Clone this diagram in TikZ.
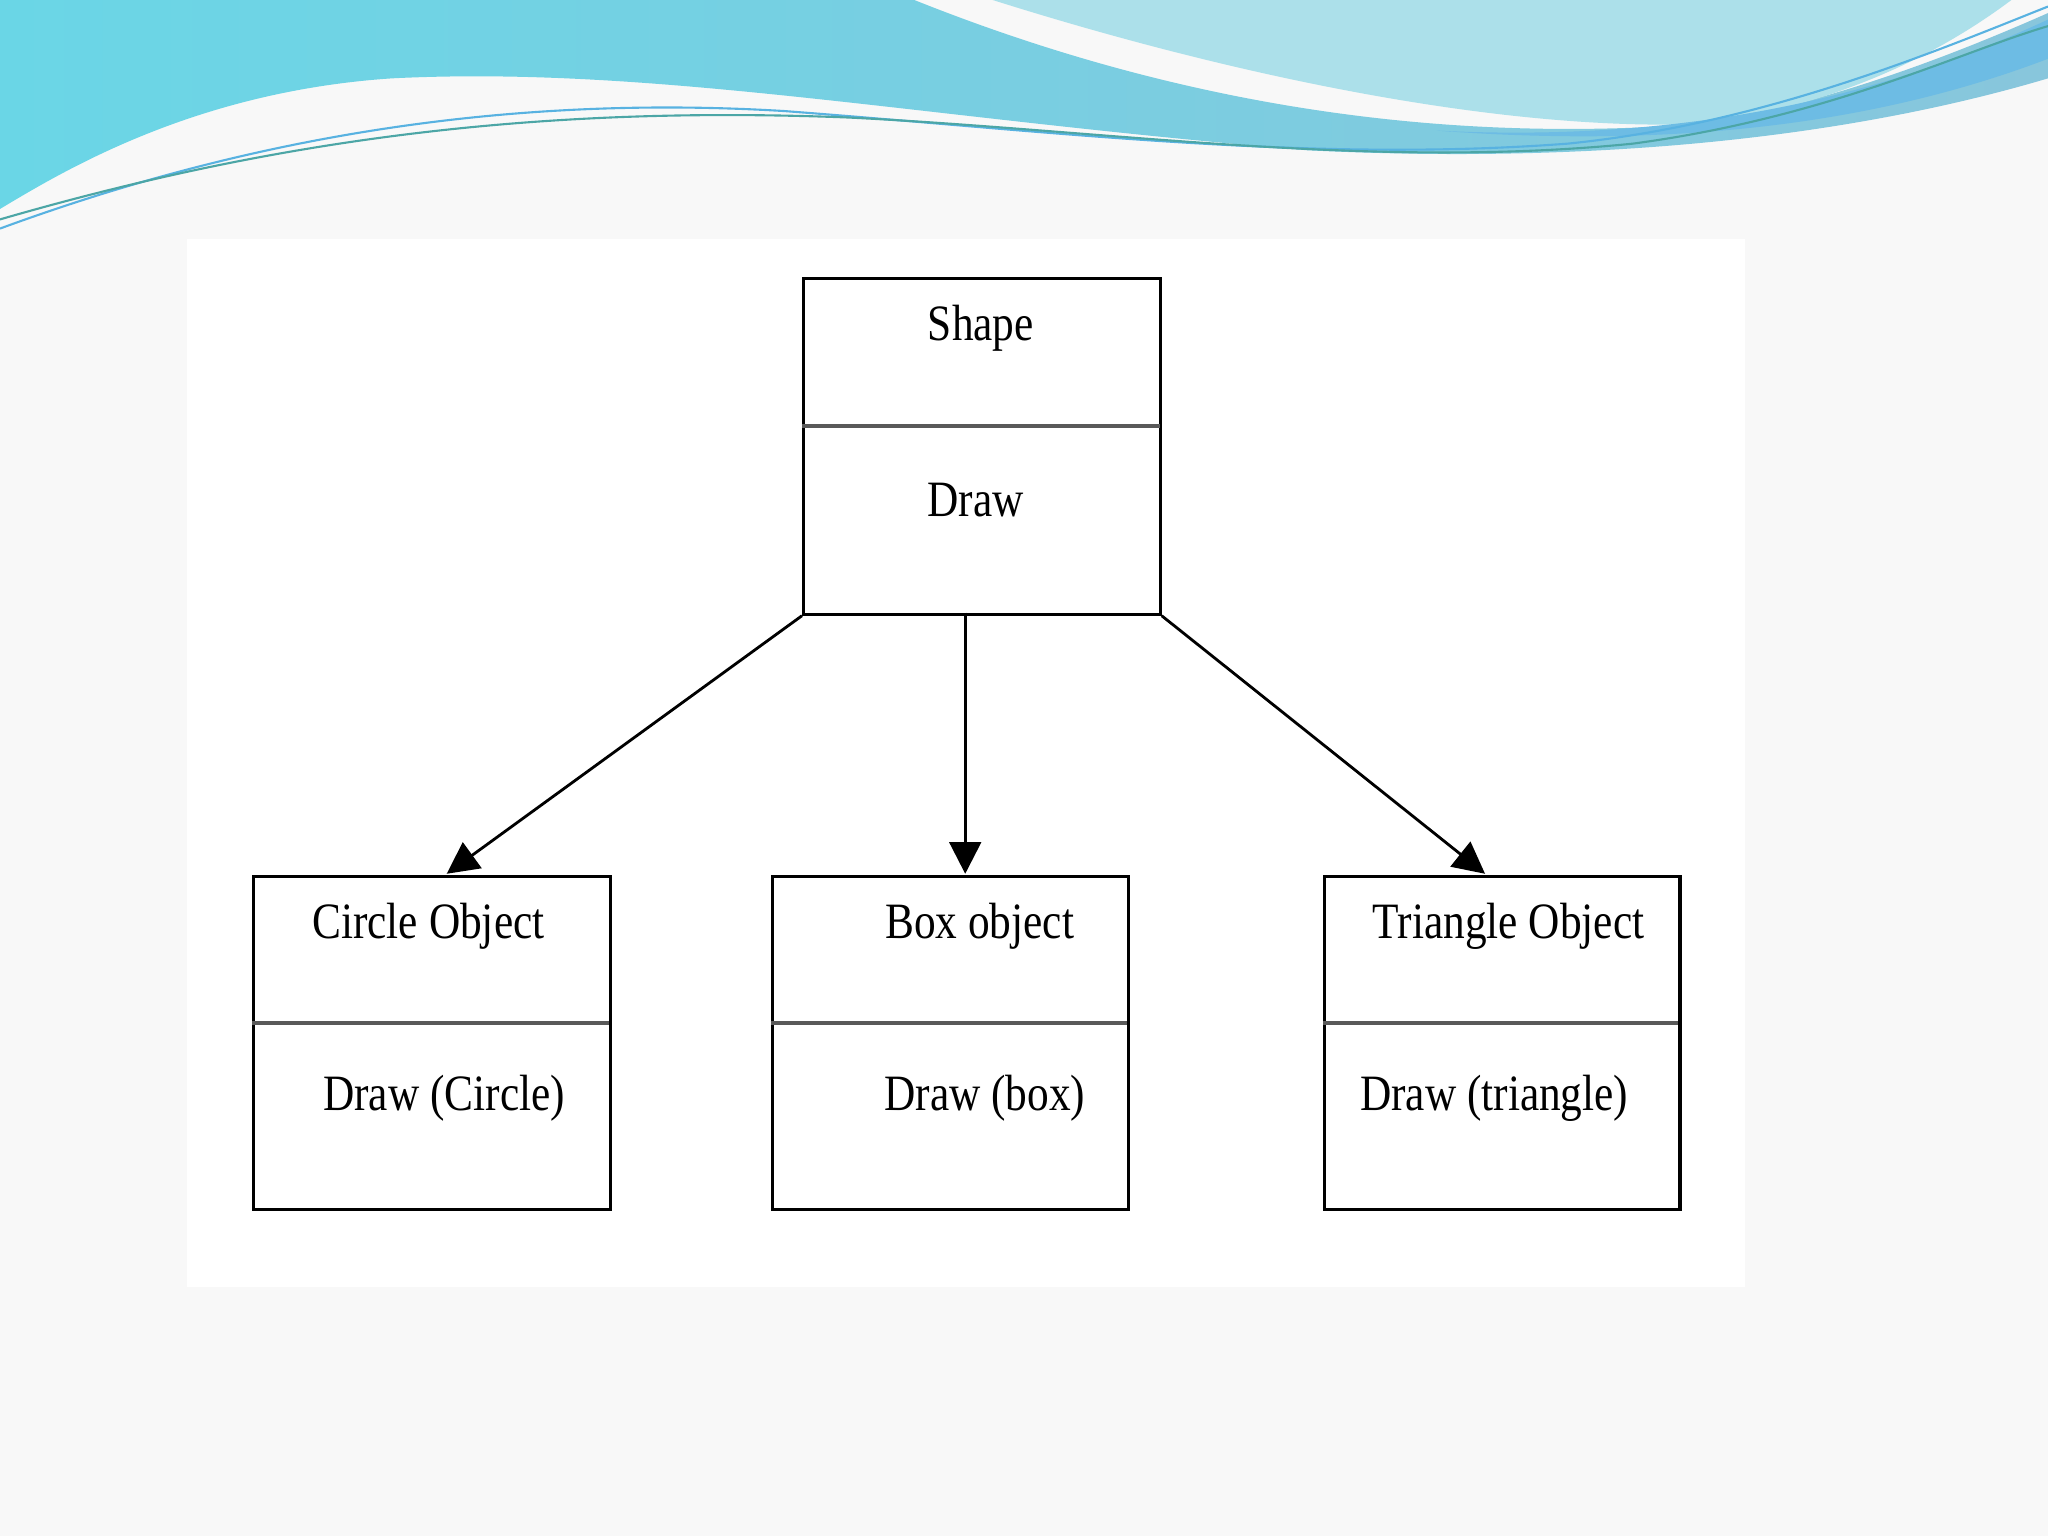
\documentclass[tikz,border=0pt]{standalone}
\usepackage{fontspec}
\setmainfont{Liberation Serif}
\usetikzlibrary{arrows.meta}
\definecolor{bgc}{HTML}{F8F8F8}
\definecolor{wa}{HTML}{88C6DC}
\definecolor{wb}{HTML}{6AD6E6}
\definecolor{wc}{HTML}{ACE0EA}
\definecolor{wd}{HTML}{2E9FD9}
\begin{document}
\begin{tikzpicture}[x=0.013061cm,y=-0.013061cm,
  box/.style={draw,line width=0.9pt,minimum width=273*0.013061cm,anchor=north west,inner sep=0},
  lbl/.style={font=\fontsize{14.5}{17}\selectfont,xscale=0.85},
  arr/.style={-{Triangle[length=9pt,width=9pt]},line width=0.8pt}]
\fill[bgc] (0,0) rectangle (1568,1176);
\useasboundingbox (0,0) rectangle (1568,1176);
% top waves
\shade[left color=wb,right color=wa] (0,0) -- (700,0) .. controls (900,80) and (1100,110) .. (1300,95) .. controls (1400,80) and (1500,40) .. (1568,10) -- (1568,60) .. controls (1400,110) and (1200,125) .. (1000,115) .. controls (700,90) and (500,50) .. (300,60) .. controls (150,70) and (50,130) .. (0,160) -- cycle;
\fill[wc] (760,0) .. controls (950,60) and (1150,100) .. (1300,95) .. controls (1420,80) and (1500,30) .. (1540,0) -- cycle;
\fill[wd!70] (1100,100) .. controls (1300,110) and (1450,70) .. (1568,15) -- (1568,45) .. controls (1450,90) and (1300,115) .. (1100,100);
\draw[wd!80,line width=0.6pt] (0,175) .. controls (150,120) and (350,70) .. (600,85) .. controls (800,100) and (1000,125) .. (1200,110) .. controls (1350,95) and (1480,40) .. (1568,5);
\draw[teal!70,line width=0.6pt] (0,168) .. controls (200,110) and (400,80) .. (650,90) .. controls (850,100) and (1050,130) .. (1250,110) .. controls (1400,90) and (1500,40) .. (1568,20);
\fill[white] (143,183) rectangle (1336,985);
% boxes
\node[box,minimum height=257*0.013061cm] (shape) at (614,212) {};
\node[box,minimum height=255*0.013061cm] (circ) at (193,670) {};
\node[box,minimum height=255*0.013061cm] (bx) at (590,670) {};
\node[box,minimum height=255*0.013061cm,minimum width=272*0.013061cm] (tri) at (1013,670) {};
\draw[gray!70!black,line width=1.2pt] (614,326) -- (888,326);
\draw[gray!70!black,line width=1.2pt] (193,783) -- (466,783);
\draw[gray!70!black,line width=1.2pt] (590,783) -- (863,783);
\draw[gray!70!black,line width=1.2pt] (1013,783) -- (1285,783);
\node[lbl] (t1) at (751,251) {Shape};
\node[lbl] (t2) at (747,383) {Draw};
\node[lbl] (t3) at (328,709) {Circle Object};
\node[lbl] (t4) at (340,841) {Draw (Circle)};
\node[lbl] (t5) at (750,709) {Box object};
\node[lbl] (t6) at (754,841) {Draw (box)};
\node[lbl] (t7) at (1155,709) {Triangle Object};
\node[lbl] (t8) at (1144,841) {Draw (triangle)};
\coordinate (cA) at (342,669);
\coordinate (cB) at (739,669);
\coordinate (cC) at (1137,669);
\coordinate (sB) at (739,469);
\draw[arr] (shape.south west) -- (cA);
\draw[arr] (sB) -- (cB);
\draw[arr] (shape.south east) -- (cC);
\end{tikzpicture}
\end{document}
